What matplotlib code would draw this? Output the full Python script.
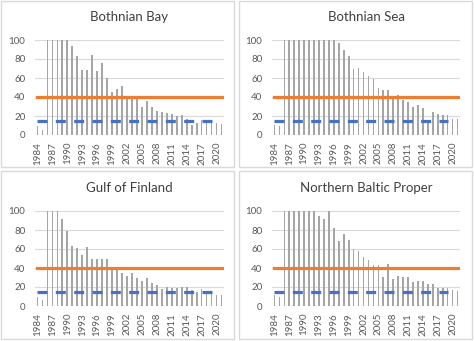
import matplotlib.pyplot as plt
from matplotlib.patches import Rectangle

plt.rcParams['font.family'] = ['Lato', 'DejaVu Sans']
plt.rcParams['lines.scale_dashes'] = False

# Data
years = list(range(1984, 2022))
bothnian_bay = [9, 5, 100, 100, 100, 100, 100, 94, 83, 68, 68, 84, 67, 76, 60, 45, 48, 52, 40,
                40, 39, 30, 36, 30, 25, 24, 23, 22, 20, 21, 17, 11, 13, 16, 16, 16, 13, 12]
bothnian_sea = [11, 10, 100, 100, 100, 100, 100, 100, 100, 100, 100, 100, 100, 97, 89, 83, 70, 71, 66,
                62, 59, 50, 47, 47, 40, 42, 37, 35, 29, 32, 28, 13, 24, 22, 21, 21, 17, 17]
gulf_of_finland = [9, 6, 100, 100, 100, 92, 79, 63, 61, 54, 62, 50, 50, 50, 49, 40, 40, 35, 32,
                   35, 29, 26, 29, 24, 22, 18, 20, 19, 19, 20, 20, 17, 15, 18, 16, 16, 12, 12]
northern_baltic_proper = [12, 9, 100, 100, 100, 100, 100, 100, 100, 95, 92, 100, 82, 68, 76, 70, 60, 58, 52,
                          48, 43, 43, 31, 44, 28, 32, 31, 31, 25, 26, 26, 23, 23, 19, 19, 19, 17, 16]
titles = ['Bothnian Bay', 'Bothnian Sea', 'Gulf of Finland', 'Northern Baltic Proper']
series = [bothnian_bay, bothnian_sea, gulf_of_finland, northern_baltic_proper]

upper_limit = [40] * len(years)
lower_years = years[:36]          # 1984-2019
lower_limit = [15] * len(lower_years)

W, H = 474, 341
fig = plt.figure(figsize=(W / 100, H / 100), dpi=100)

# panel frames and plot areas in pixels (x, y from top, w, h)
frames = [(1, 1, 233, 166), (239, 1, 233, 166), (1, 171, 233, 168), (239, 171, 233, 168)]
boxes = [(35, 40, 189, 95), (272, 40, 188, 95), (35, 211, 189, 95), (272, 211, 188, 95)]

for (fx, fy, fw, fh) in frames:
    fig.patches.append(Rectangle((fx / W, 1 - (fy + fh) / H), fw / W, fh / H,
                                 transform=fig.transFigure, fill=False,
                                 edgecolor='#D9D9D9', linewidth=1))

idx = list(range(len(years)))
for (bx, by, bw, bh), title, vals in zip(boxes, titles, series):
    ax = fig.add_axes([bx / W, 1 - (by + bh) / H, bw / W, bh / H])
    ax.bar(idx, vals, width=0.35, color='#A5A5A5', zorder=2)
    ax.plot(idx, upper_limit, color='#ED7D31', linewidth=2.3, zorder=3)
    ax.plot(idx[:len(lower_years)], lower_limit, color='#4472C4', linewidth=2.3,
            linestyle=(0, (7.2, 6.0)), dash_capstyle='butt', zorder=3)
    ax.set_xlim(-0.5, len(years) - 0.5)
    ax.set_ylim(0, 100)
    ax.set_yticks(range(0, 101, 20))
    ax.set_xticks(idx[::3])
    ax.set_xticklabels([str(y) for y in years[::3]], rotation=90)
    ax.grid(axis='y', color='#D9D9D9', linewidth=0.8, zorder=0)
    ax.set_axisbelow(True)
    for s in ax.spines.values():
        s.set_visible(False)
    ax.tick_params(axis='both', length=0, labelsize=7, colors='#595959')
    ax.tick_params(axis='y', pad=7)
    ax.tick_params(axis='x', pad=5)
    ax.set_title(title, fontsize=9.5, color='#404040', pad=14)

plt.savefig('out.png', dpi=100)
